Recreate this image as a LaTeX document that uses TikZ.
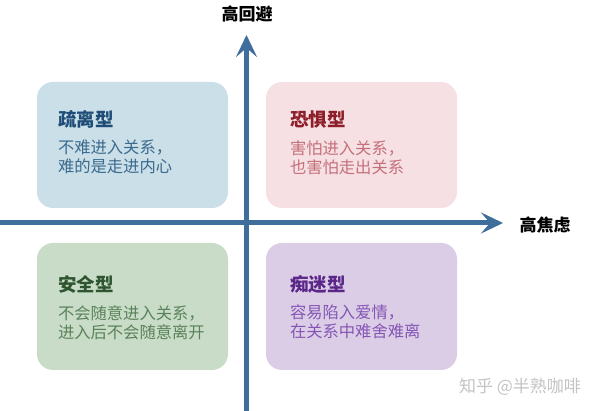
\documentclass[tikz,border=0pt]{standalone}
\usepackage{fontspec}
\setmainfont{Noto Sans CJK SC}
\usetikzlibrary{arrows.meta,positioning}
\definecolor{axisblue}{HTML}{3F6E9C}
\definecolor{tlfill}{HTML}{CBDFE8}\definecolor{tltitle}{HTML}{1F4D78}\definecolor{tlbody}{HTML}{3A6A8E}
\definecolor{trfill}{HTML}{F6E0E3}\definecolor{trtitle}{HTML}{8E1F2A}\definecolor{trbody}{HTML}{C4707A}
\definecolor{blfill}{HTML}{C8DCC8}\definecolor{bltitle}{HTML}{2E5530}\definecolor{blbody}{HTML}{5A825A}
\definecolor{brfill}{HTML}{DCCDE7}\definecolor{brtitle}{HTML}{5A2688}\definecolor{brbody}{HTML}{8456B4}
\definecolor{markgray}{HTML}{C4C4C4}

\begin{document}
\begin{tikzpicture}[x=1pt,y=-1pt,
    quad/.style={rounded corners=16pt, minimum width=191pt, inner sep=0pt},
    qtitle/.style={anchor=west, inner sep=0pt, font=\fontsize{18.5}{18.5}\selectfont\bfseries},
    qbody/.style={anchor=west, align=left, inner sep=0pt, font=\fontsize{16.3}{19}\selectfont},
    axlabel/.style={font=\fontsize{17}{17}\selectfont\bfseries},
    axis/.style={line width=5pt, draw=axisblue, -{Stealth[length=22pt,width=21pt,inset=9pt]}}]
    \useasboundingbox[fill=white] (0,0) rectangle (600,411);
    % the four quadrants
    \node[quad, fill=tlfill, minimum height=126pt] (tl) at (132.5,145) {};
    \node[quad, fill=trfill, minimum height=126pt] (tr) at (361.5,145) {};
    \node[quad, fill=blfill, minimum height=127pt] (bl) at (132.5,306.5) {};
    \node[quad, fill=brfill, minimum height=127pt] (br) at (361.5,306.5) {};
    \node[qtitle, text=tltitle] (tlt) at ([shift={(21,38)}]tl.north west) {疏离型};
    \node[qbody, text=tlbody] (tlb) at ([shift={(21,75.5)}]tl.north west) {不难进入关系，\\难的是走进内心};
    \node[qtitle, text=trtitle] (trt) at ([shift={(24,38)}]tr.north west) {恐惧型};
    \node[qbody, text=trbody] (trb) at ([shift={(24,75.5)}]tr.north west) {害怕进入关系，\\也害怕走出关系};
    \node[qtitle, text=bltitle] (blt) at ([shift={(21,42)}]bl.north west) {安全型};
    \node[qbody, text=blbody] (blb) at ([shift={(21,80)}]bl.north west) {不会随意进入关系，\\进入后不会随意离开};
    \node[qtitle, text=brtitle] (brt) at ([shift={(24,42)}]br.north west) {痴迷型};
    \node[qbody, text=brbody] (brb) at ([shift={(24,79)}]br.north west) {容易陷入爱情，\\在关系中难舍难离};
    % axes
    \coordinate (xstart) at (0,223); \coordinate (xend) at (503,223);
    \coordinate (ystart) at (246.5,411); \coordinate (yend) at (246.5,35);
    \draw[axis] (xstart) -- (xend);
    \draw[axis] (ystart) -- (yend);
    \node[axlabel] (ylab) at (247,14) {高回避};
    \node[axlabel] (xlab) at (545,225) {高焦虑};
    \node[text=markgray, font=\fontsize{17}{17}\selectfont] (mark) at (520,387) {知乎 @半熟咖啡};
\end{tikzpicture}
\end{document}
